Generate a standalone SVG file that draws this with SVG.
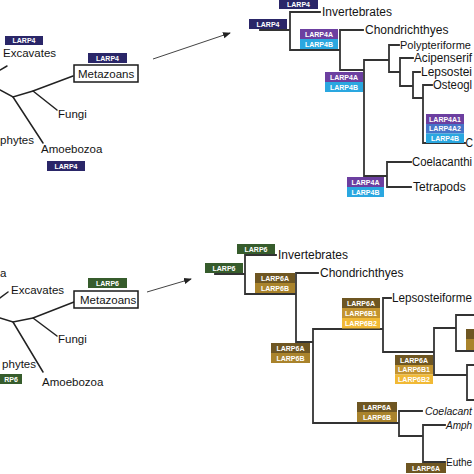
<svg xmlns="http://www.w3.org/2000/svg" width="474" height="474" viewBox="0 0 474 474">
<style>
.bg{fill:#ffffff}
.lbl{font-family:"Liberation Sans",Arial,sans-serif;font-size:12px;fill:#141414}
.lbs{font-family:"Liberation Sans",Arial,sans-serif;font-size:11.5px;fill:#141414}
.bt{font-family:"Liberation Sans",Arial,sans-serif;font-size:7px;font-weight:bold;fill:#ffffff;text-anchor:middle}
.ln{fill:none;stroke:#333333;stroke-width:1.8;stroke-linecap:square}
.rl{fill:none;stroke:#222222;stroke-width:1.5;stroke-linecap:round}
.ar{fill:none;stroke:#444444;stroke-width:1}
.nav{fill:#2a2668}
.pur{fill:#6c3fa0}
.blu{fill:#4674c8}
.cya{fill:#2aa7e0}
.grn{fill:#365c2c}
.dkg{fill:#6e5622}
.gld{fill:#a9832c}
.mgd{fill:#c39430}
.ylw{fill:#f1b935}
</style>
<defs>
<marker id="ah" markerWidth="8" markerHeight="8" refX="7" refY="4" orient="auto" markerUnits="userSpaceOnUse">
<path d="M0,0.8 L8,4 L0,7.2 Z" fill="#222222"/>
</marker>
</defs>
<rect class="bg" x="0" y="0" width="474" height="474"/>

<g id="connectors">
<!-- top-left unrooted tree -->
<path class="rl" d="M0,90 L13,97 L33,91 L73,76"/>
<path class="rl" d="M33,91 L57,110"/>
<path class="rl" d="M13,97 L43,143"/>
<path class="rl" d="M0,70 L7,66"/>
<path class="ar" d="M153,59 L230,33" marker-end="url(#ah)"/>
<!-- bottom-left unrooted tree -->
<path class="rl" d="M0,318 L13,322 L33,318 L74,302"/>
<path class="rl" d="M33,318 L57,336"/>
<path class="rl" d="M13,322 L43,372"/>
<path class="rl" d="M0,298 L8,292"/>
<path class="ar" d="M147,292 L191,279" marker-end="url(#ah)"/>
<!-- top-right cladogram -->
<path class="ln" d="M260,30 H290 M290,12 V50 M290,12 H320 M290,50 H340 M340,30 V70 M340,30 H363 M340,70 H364 M364,60 V176 M364,60 H389 M389,45 V72 M389,45 H399 M389,72 H400 M400,58 V86 M400,58 H413 M400,86 H413 M413,72 V98 M413,72 H420 M413,98 H423 M423,85 V143 M423,85 H432 M423,143 H465 M364,176 H387 M387,162 V187 M387,162 H411 M387,187 H411"/>
<!-- bottom-right cladogram -->
<path class="ln" d="M215,274 H245 M245,255 V294 M245,255 H276 M245,294 H296 M296,273 V342 M296,273 H318 M296,342 H313 M313,329 V423 M313,329 H383 M383,298 V352 M383,298 H391 M383,352 H434 M434,328 V375 M434,328 H456 M456,315 V351 M456,315 H475 M456,351 H475 M434,375 H467 M467,365 V400 M467,365 H475 M467,400 H475 M313,423 H399 M399,411 V436 M399,411 H422 M399,436 H423 M423,425 V462 M423,425 H445 M423,462 H445"/>
</g>

<!-- top-left panel -->
<g id="tl-larp4-excavates"><rect class="nav" x="5" y="36" width="38" height="9"/><text class="bt" x="24" y="43">LARP4</text></g>
<g id="tl-excavates"><text class="lbs" x="3" y="57">Excavates</text></g>
<g id="tl-larp4-metazoans"><rect class="nav" x="88" y="53" width="39" height="10"/><text class="bt" x="107.5" y="60.5">LARP4</text></g>
<g id="tl-metazoans"><rect x="74" y="65" width="64" height="17" fill="#ffffff" stroke="#1a1a1a" stroke-width="1.5"/><text class="lbs" x="78" y="77.5">Metazoans</text></g>
<g id="tl-fungi"><text class="lbs" x="58" y="118">Fungi</text></g>
<g id="tl-phytes"><text class="lbs" x="34" y="144" text-anchor="end">phytes</text></g>
<g id="tl-amoebozoa"><text class="lbs" x="41" y="153">Amoebozoa</text></g>
<g id="tl-larp4-amoebozoa"><rect class="nav" x="47" y="161" width="38" height="10"/><text class="bt" x="66" y="168.5">LARP4</text></g>

<!-- top-right panel -->
<g id="tr-larp4-invert"><rect class="nav" x="279" y="-1" width="39" height="10"/><text class="bt" x="298.5" y="6.5">LARP4</text></g>
<g id="tr-invertebrates"><text class="lbl" x="322" y="16">Invertebrates</text></g>
<g id="tr-larp4-root"><rect class="nav" x="249" y="19" width="38" height="10"/><text class="bt" x="268" y="26.5">LARP4</text></g>
<g id="tr-larp4ab-1"><rect class="pur" x="300" y="29" width="38" height="10"/><rect class="cya" x="300" y="39" width="38" height="10"/><text class="bt" x="319" y="36.5">LARP4A</text><text class="bt" x="319" y="46.5">LARP4B</text></g>
<g id="tr-chondrichthyes"><text class="lbl" x="365" y="34">Chondrichthyes</text></g>
<g id="tr-larp4ab-2"><rect class="pur" x="325" y="72" width="38" height="10"/><rect class="cya" x="325" y="82" width="38" height="10"/><text class="bt" x="344" y="79.5">LARP4A</text><text class="bt" x="344" y="89.5">LARP4B</text></g>
<g id="tr-polypteriformes"><text class="lbl" x="400" y="49" style="font-size:11px">Polypteriforme</text></g>
<g id="tr-acipenseriformes"><text class="lbl" x="414" y="62" textLength="58" lengthAdjust="spacingAndGlyphs">Acipenserif</text></g>
<g id="tr-lepsosteiformes"><text class="lbl" x="421" y="76" textLength="51" lengthAdjust="spacingAndGlyphs">Lepsostei</text></g>
<g id="tr-osteoglossiformes"><text class="lbl" x="433" y="89" textLength="39" lengthAdjust="spacingAndGlyphs">Osteogl</text></g>
<g id="tr-larp4a1a2b"><rect class="pur" x="426" y="114" width="38" height="10"/><rect class="blu" x="426" y="124" width="38" height="9.5"/><rect class="cya" x="426" y="133.5" width="38" height="9.5"/><text class="bt" x="445" y="121.5">LARP4A1</text><text class="bt" x="445" y="131.2">LARP4A2</text><text class="bt" x="445" y="140.7">LARP4B</text></g>
<g id="tr-c"><text class="lbl" x="465.5" y="147" textLength="7.5" lengthAdjust="spacingAndGlyphs">C</text></g>
<g id="tr-coelacanthiformes"><text class="lbl" x="412" y="166" textLength="60" lengthAdjust="spacingAndGlyphs">Coelacanthi</text></g>
<g id="tr-larp4ab-3"><rect class="pur" x="347" y="177" width="37" height="10"/><rect class="cya" x="347" y="187" width="37" height="10"/><text class="bt" x="365.5" y="184.5">LARP4A</text><text class="bt" x="365.5" y="194.5">LARP4B</text></g>
<g id="tr-tetrapods"><text class="lbl" x="413" y="191">Tetrapods</text></g>

<!-- bottom-left panel -->
<g id="bl-a"><text class="lbs" x="0" y="277">a</text></g>
<g id="bl-excavates"><text class="lbs" x="11" y="294">Excavates</text></g>
<g id="bl-larp6-metazoans"><rect class="grn" x="88" y="278" width="39" height="10"/><text class="bt" x="107.5" y="285.5">LARP6</text></g>
<g id="bl-metazoans"><rect x="74" y="291" width="64" height="17" fill="#ffffff" stroke="#1a1a1a" stroke-width="1.5"/><text class="lbs" x="80" y="304">Metazoans</text></g>
<g id="bl-fungi"><text class="lbs" x="58" y="343">Fungi</text></g>
<g id="bl-phytes"><text class="lbs" x="36" y="368" text-anchor="end">phytes</text></g>
<g id="bl-larp6-phytes"><rect class="grn" x="0" y="374" width="22" height="10"/><text class="bt" x="11" y="381.5">RP6</text></g>
<g id="bl-amoebozoa"><text class="lbs" x="42" y="386">Amoebozoa</text></g>

<!-- bottom-right panel -->
<g id="br-larp6-invert"><rect class="grn" x="237" y="244" width="38" height="10"/><text class="bt" x="256" y="251.5">LARP6</text></g>
<g id="br-invertebrates"><text class="lbl" x="278" y="259">Invertebrates</text></g>
<g id="br-larp6-root"><rect class="grn" x="205" y="263" width="38" height="10"/><text class="bt" x="224" y="270.5">LARP6</text></g>
<g id="br-larp6ab-1"><rect class="dkg" x="255" y="273" width="40" height="10"/><rect class="gld" x="255" y="283" width="40" height="10"/><text class="bt" x="275" y="280.5">LARP6A</text><text class="bt" x="275" y="290.5">LARP6B</text></g>
<g id="br-chondrichthyes"><text class="lbl" x="320" y="277">Chondrichthyes</text></g>
<g id="br-larp6ab1b2-1"><rect class="dkg" x="342" y="298" width="38" height="10"/><rect class="mgd" x="342" y="308" width="38" height="10"/><rect class="ylw" x="342" y="318" width="38" height="10.5"/><text class="bt" x="361" y="305.5">LARP6A</text><text class="bt" x="361" y="315.5">LARP6B1</text><text class="bt" x="361" y="325.7">LARP6B2</text></g>
<g id="br-lepsosteiformes"><text class="lbl" x="392" y="302" textLength="80" lengthAdjust="spacingAndGlyphs">Lepsosteiforme</text></g>
<g id="br-larp6ab-edge"><rect class="dkg" x="466" y="329" width="8" height="10"/><rect class="gld" x="466" y="339" width="8" height="11"/></g>
<g id="br-larp6ab-2"><rect class="dkg" x="271" y="343" width="39" height="10"/><rect class="gld" x="271" y="353" width="39" height="10"/><text class="bt" x="290.5" y="350.5">LARP6A</text><text class="bt" x="290.5" y="360.5">LARP6B</text></g>
<g id="br-larp6ab1b2-2"><rect class="dkg" x="395" y="355" width="38" height="10"/><rect class="mgd" x="395" y="365" width="38" height="9.5"/><rect class="ylw" x="395" y="374.5" width="38" height="9.5"/><text class="bt" x="414" y="362.5">LARP6A</text><text class="bt" x="414" y="372.2">LARP6B1</text><text class="bt" x="414" y="381.7">LARP6B2</text></g>
<g id="br-larp6ab-3"><rect class="dkg" x="357" y="402" width="40" height="10"/><rect class="gld" x="357" y="412" width="40" height="10"/><text class="bt" x="377" y="409.5">LARP6A</text><text class="bt" x="377" y="419.5">LARP6B</text></g>
<g id="br-coelacanthiformes"><text class="lbl" x="425" y="415" style="font-style:italic;font-size:11px" textLength="47" lengthAdjust="spacingAndGlyphs">Coelacant</text></g>
<g id="br-amphibia"><text class="lbl" x="446" y="429" style="font-style:italic;font-size:10px">Amph</text></g>
<g id="br-eutheria"><text class="lbl" x="446" y="466" style="font-size:10px">Euthe</text></g>
<g id="br-larp6a-bottom"><rect class="dkg" x="406" y="463" width="40" height="10"/><text class="bt" x="426" y="470.5">LARP6A</text></g>
</svg>
